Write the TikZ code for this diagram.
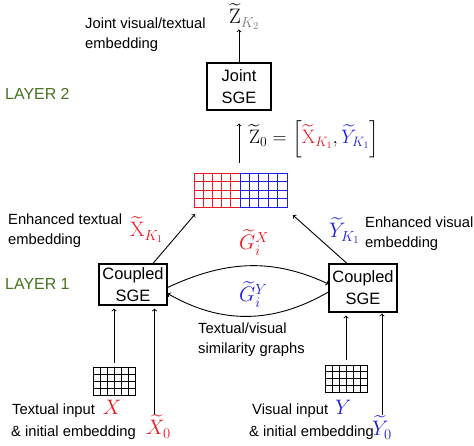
\RequirePackage{fix-cm}
\documentclass[tikz,border=0pt]{standalone}
\usepackage{amsmath}
\usepackage{fontspec}
\newfontfamily\lsans{Liberation Sans}
\newcommand\notefont{\lsans\fontsize{14.8}{20}\selectfont}
\newcommand\sgefont{\lsans\fontsize{16.5}{22}\selectfont}
\newcommand\layfont{\lsans\fontsize{16}{19}\selectfont}
\newcommand\symfont{\fontsize{21}{25}\selectfont}
\definecolor{txtred}{RGB}{230,25,35}
\definecolor{visblue}{RGB}{30,30,220}
\definecolor{laygreen}{RGB}{70,115,30}
\usetikzlibrary{positioning}
\tikzset{
  sgebox/.style={draw, line width=1.1bp, minimum width=68bp, align=center, inner sep=2bp, font=\sgefont},
  note/.style={font=\notefont, align=left, inner sep=0pt},
  layer/.style={font=\layfont, text=laygreen, inner sep=0pt},
  sym/.style={font=\symfont, inner sep=0pt},
  gridspot/.style={inner sep=0pt},
  arr/.style={->, line width=0.9bp}
}
\begin{document}
\begin{tikzpicture}[x=1bp, y=1bp, >=to]
\useasboundingbox (0,0) rectangle (474,446);

% boxes
\node[sgebox, minimum width=64bp, minimum height=47bp] (joint) at (239,359.5) {Joint\\SGE};
\node[sgebox, minimum height=41bp] (lc) at (133,161.5) {Coupled\\SGE};
\node[sgebox, minimum height=48bp] (rc) at (363,158) {Coupled\\SGE};

% grids
\node[gridspot, minimum width=93bp, minimum height=34bp] (zgrid) at (240.5,256) {};
\node[gridspot, minimum width=42bp, minimum height=28bp] (xgrid) at (114,65) {};
\node[gridspot, minimum width=42bp, minimum height=27bp] (ygrid) at (346,67.5) {};
\begin{scope}[shift={(194,239)}, line width=0.9bp, txtred]
  \draw[xstep=9.2bp, ystep=8.5bp] (0,0) grid (46,34);
  \draw (0,0) rectangle (46,34);
\end{scope}
\begin{scope}[shift={(240,239)}, line width=0.9bp, visblue]
  \draw[xstep=9.4bp, ystep=8.5bp] (0,0) grid (47,34);
  \draw (0,0) rectangle (47,34);
\end{scope}
\begin{scope}[shift={(93,51)}, line width=0.8bp]
  \draw[step=7bp] (0,0) grid (42,28);
  \draw (0,0) rectangle (42,28);
\end{scope}
\begin{scope}[shift={(325,54)}, line width=0.8bp]
  \draw[xstep=7bp, ystep=6.75bp] (0,0) grid (42,27);
  \draw (0,0) rectangle (42,27);
\end{scope}

% symbols
\node[sym, anchor=base west] (zk2) at (229,422) {$\widetilde{\mathrm{Z}}_{\color{gray}K_2}$};
\node[sym, font=\fontsize{19.5}{24}\selectfont, anchor=base west] (z0) at (249,302) {$\widetilde{\mathrm{Z}}_0 = \Bigl[\textcolor{txtred}{\widetilde{\mathrm{X}}_{K_1}},\textcolor{visblue}{\widetilde{Y}_{K_1}}\Bigr]$};
\node[sym, anchor=base west, text=txtred] (xk1) at (130,209) {$\widetilde{\mathrm{X}}_{K_1}$};
\node[sym, anchor=base west, text=visblue] (yk1) at (329,208) {$\widetilde{Y}_{K_1}$};
\node[sym, anchor=base west, text=txtred] (gx) at (239,196) {$\widetilde{G}_i^X$};
\node[sym, anchor=base west, text=visblue] (gy) at (239,144) {$\widetilde{G}_i^Y$};
\node[sym, anchor=base west, text=txtred] (x0) at (146,11) {$\widetilde{X}_0$};
\node[sym, anchor=base west, text=visblue] (y0) at (372,10) {$\widetilde{Y}_0$};

% texts
\node[note, anchor=north west] (jointtxt) at (85,428.5) {Joint visual/textual\\embedding};
\node[note, anchor=north west] (enhtxt) at (8,232.5) {Enhanced textual\\embedding};
\node[note, anchor=north west] (enhvis) at (365,229.5) {Enhanced visual\\embedding};
\node[note, anchor=north west] (simtxt) at (198,123.5) {Textual/visual\\similarity graphs};
\node[note, anchor=base west] (xin) at (12,31) {Textual input\hspace{8bp}\textcolor{txtred}{\symfont$X$}};
\node[note, anchor=base west] (xinit) at (11,9) {\& initial embedding};
\node[note, anchor=base west] (yin) at (252,31) {Visual input\hspace{7bp}\textcolor{visblue}{\symfont$Y$}};
\node[note, anchor=base west] (yinit) at (249,9) {\& initial embedding};
\node[layer, anchor=base west] (lay2) at (5,346) {LAYER 2};
\node[layer, anchor=base west] (lay1) at (5,156) {LAYER 1};

% connectors
\draw[arr] (joint.north) -- (joint.north |- zk2.south);
\draw[arr, shorten <=10bp, shorten >=13bp] (zgrid.north -| joint) -- (joint.south);
\draw[arr] ([xshift=20bp]lc.north) -- ([xshift=-45.5bp, yshift=-7bp]zgrid.south);
\draw[arr] ([xshift=-16bp]rc.north) -- ([xshift=52.5bp, yshift=-8bp]zgrid.south);
\draw[arr] ([yshift=-3bp]lc.east) to[out=25, in=155] ([yshift=4bp]rc.west);
\draw[arr] ([yshift=-4bp]rc.west) to[out=210, in=-30] ([yshift=-9bp]lc.east);
\draw[arr, shorten <=4bp, shorten >=3bp] (xgrid.north) -- (xgrid.north |- lc.south);
\draw[arr, shorten >=3bp] ([xshift=-4bp]x0.north) -- ([xshift=-4bp]x0.north |- lc.south);
\draw[arr, shorten <=5bp, shorten >=3bp] (ygrid.north) -- (ygrid.north |- rc.south);
\draw[arr, shorten >=1bp] (y0.north) -- (y0.north |- rc.south);
\end{tikzpicture}
\end{document}
